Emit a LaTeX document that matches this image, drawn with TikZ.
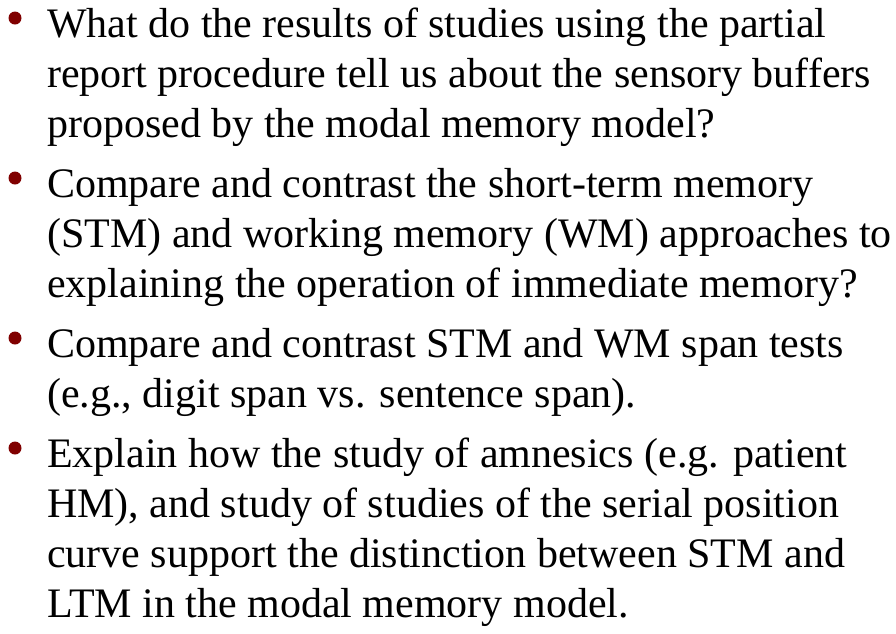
\documentclass[tikz,border=0pt]{standalone}
\usepackage{fontspec}
\setmainfont{Liberation Serif}
\definecolor{bulred}{RGB}{128,0,0}
\begin{document}
\begin{tikzpicture}[x=1pt,y=-1pt,
  ln/.style={anchor=base west,inner sep=0pt,font=\fontsize{42}{48}\selectfont},
  bul/.style={fill=bulred,circle,inner sep=0pt,minimum size=13pt}]
\useasboundingbox (0,0) rectangle (896,633);
\foreach \y/\t [count=\i] in {37/What do the results of studies using the partial,
 87/report procedure tell us about the sensory buffers,
 137/proposed by the modal memory model?,
 197/Compare and contrast the short-term memory,
 247/(STM) and working memory (WM) approaches to,
 297/explaining the operation of immediate memory?,
 357/Compare and contrast STM and WM span tests,
 407/{(e.g., digit span vs. sentence span).},
 467/Explain how the study of amnesics (e.g. patient,
 517/{HM), and study of studies of the serial position},
 567/curve support the distinction between STM and,
 617/LTM in the modal memory model.}
 \node[ln] (l\i) at (47,\y) {\t};
\foreach \y/\n in {18/b1,178/b2,338/b3,448/b4}
 \node[bul] (\n) at (15,\y) {};
\end{tikzpicture}
\end{document}
